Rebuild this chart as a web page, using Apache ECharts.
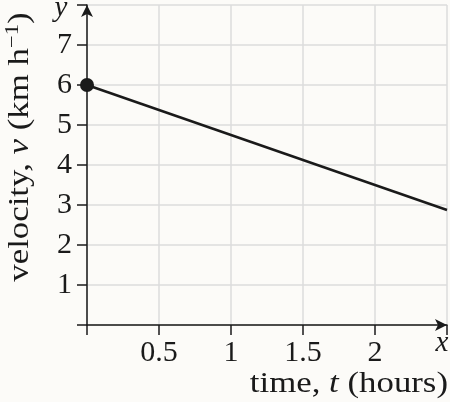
<!DOCTYPE html>
<html>
<head>
<meta charset="utf-8">
<script src="https://cdn.jsdelivr.net/npm/echarts@6/dist/echarts.min.js"></script>
<style>
  html, body { margin: 0; padding: 0; background: #fcfbf8; }
  #main { width: 450px; height: 402px; }
</style>
</head>
<body>
<div id="main"></div>
<script>
// data
const times = [0, 2.5];          // hours
const velocity = [6, 2.875];     // km/h
const xTicks = [0.5, 1, 1.5, 2];
const yTicks = [1, 2, 3, 4, 5, 6, 7];

const FONT = '"Liberation Serif"';
const INK = '#1a1a1a';
// the reference uses a wider serif, so names get stretched a bit
const STRETCH = 1.2;

function txt(extra) {
  return Object.assign({ fontFamily: FONT, fontSize: 29, fill: INK }, extra);
}

const chart = echarts.init(document.getElementById('main'));

const option = {
  backgroundColor: '#fcfbf8',
  animation: false,
  grid: { left: 87, right: 3, top: 5, bottom: 77, outerBoundsMode: 'none' },
  xAxis: {
    type: 'value',
    min: 0, max: 2.5, interval: 0.5,
    axisLine: { onZero: false, lineStyle: { color: INK, width: 1.5 }, symbol: ['none', 'arrow'], symbolSize: [9, 12] },
    axisTick: { length: 10, lineStyle: { color: INK, width: 1.5 } },
    axisLabel: {
      margin: 13, color: INK, fontFamily: FONT, fontSize: 30,
      formatter: v => xTicks.includes(v) ? String(v) : ''
    },
    splitLine: { lineStyle: { color: '#dcdcdc', width: 1.5 } }
  },
  yAxis: {
    type: 'value',
    min: 0, max: 8, interval: 1,
    axisLine: { onZero: false, lineStyle: { color: INK, width: 1.5 }, symbol: ['none', 'arrow'], symbolSize: [9, 12] },
    axisTick: { length: 10, lineStyle: { color: INK, width: 1.5 } },
    axisLabel: {
      margin: 15, color: INK, fontFamily: FONT, fontSize: 30,
      formatter: v => yTicks.includes(v) ? String(v) : ''
    },
    splitLine: { lineStyle: { color: '#dcdcdc', width: 1.5 } }
  },
  graphic: [
    { type: 'text', x: 61, y: 8, style: txt({ text: 'y', fontStyle: 'italic', align: 'center', verticalAlign: 'middle' }) },
    { type: 'text', x: 442, y: 343, style: txt({ text: 'x', fontStyle: 'italic', align: 'center', verticalAlign: 'middle' }) },
    {
      type: 'text', x: 448, y: 384, scaleX: STRETCH,
      style: txt({
        text: 'time, {i|t} (hours)',
        align: 'right', verticalAlign: 'middle',
        rich: { i: txt({ fontStyle: 'italic' }) }
      })
    },
    {
      type: 'text', x: 20, y: 147, rotation: Math.PI / 2, scaleX: STRETCH,
      style: txt({
        text: 'velocity, {i|v} (km h{sup|−1})',
        align: 'center', verticalAlign: 'middle',
        rich: {
          i: txt({ fontStyle: 'italic' }),
          sup: txt({ fontSize: 19, verticalAlign: 'top', padding: [0, 0, 14, 0] })
        }
      })
    }
  ],
  series: [{
    type: 'line',
    clip: false,
    lineStyle: { color: INK, width: 2.5 },
    itemStyle: { color: INK },
    data: times.map((t, i) => ({
      value: [t, velocity[i]],
      symbol: i === 0 ? 'circle' : 'none',
      symbolSize: 14
    }))
  }]
};

chart.setOption(option);
</script>
</body>
</html>
